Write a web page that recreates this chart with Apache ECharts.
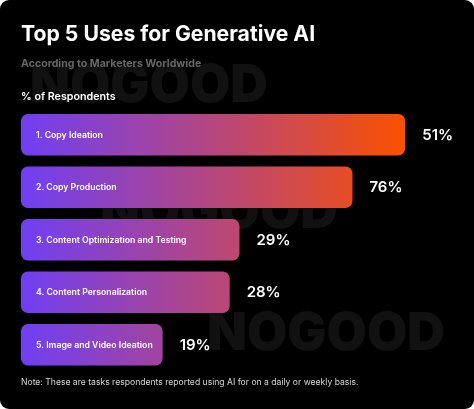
<!DOCTYPE html>
<html><head><meta charset="utf-8">
<style>html,body{margin:0;padding:0;background:#fff}#c{width:474px;height:409px}</style>
<script src="https://cdn.jsdelivr.net/npm/echarts@6/dist/echarts.min.js"></script>
</head><body><div id="c"></div>
<script>
var categories = ['1. Copy Ideation','2. Copy Production','3. Content Optimization and Testing','4. Content Personalization','5. Image and Video Ideation'];
var barValues = [51, 44, 29, 27.7, 18.8];
var shownLabels = ['51%','76%','29%','28%','19%'];
var F = 'Inter, "Noto Sans", sans-serif';
var chart = echarts.init(document.getElementById('c'), null, {renderer:'canvas'});
function mark(x,y){return {type:'text',silent:true,z:1,left:x,top:y,style:{text:'NOGOOD',fill:'#111111',font:'900 52px '+F}};}
var grad = new echarts.graphic.LinearGradient(21,0,405,0,[{offset:0,color:'#6f3ff5'},{offset:0.5,color:'#b5467f'},{offset:1,color:'#fb5000'}],true);
chart.setOption({
  animation:false,
  backgroundColor:'#ffffff',
  title:[
    {text:'Top 5 Uses for Generative AI',left:21,top:24,padding:0,textStyle:{color:'#fff',fontFamily:F,fontWeight:700,fontSize:21.2}},
    {text:'According to Marketers Worldwide',left:21,top:58,padding:0,textStyle:{color:'#666666',fontFamily:F,fontWeight:700,fontSize:10.6}},
    {text:'% of Respondents',left:21,top:91.5,padding:0,textStyle:{color:'#fff',fontFamily:F,fontWeight:600,fontSize:10.7}},
    {text:'Note: These are tasks respondents reported using AI for on a daily or weekly basis.',left:21,top:377.5,padding:0,textStyle:{color:'#d8d8d8',fontFamily:F,fontWeight:400,fontSize:8.6}}
  ],
  graphic:[
    {type:'rect',silent:true,z:0,shape:{x:0,y:0,width:474,height:409,r:9},style:{fill:'#000'}},
    mark(30,60),mark(100,186),mark(207,308)
  ],
  grid:{left:21,top:108.5,width:452,height:262.5},
  xAxis:{type:'value',min:0,max:60,show:false},
  yAxis:{type:'category',inverse:true,data:categories,show:false},
  series:[
    {type:'bar',z:3,data:barValues,barWidth:41.5,itemStyle:{color:grad,borderRadius:7},
     label:{show:true,position:'insideLeft',distance:15,offset:[0,0.5],color:'#fff',fontFamily:F,fontWeight:600,fontSize:8.7,
       formatter:function(p){return p.name;}}},
    {type:'bar',z:3,data:barValues,barWidth:41.5,barGap:'-100%',itemStyle:{color:'rgba(0,0,0,0)'},
     label:{show:true,position:'right',distance:17,offset:[0,0.5],color:'#fff',fontFamily:F,fontWeight:600,fontSize:15,
       formatter:function(p){return shownLabels[p.dataIndex];}}}
  ]
});
</script></body></html>
